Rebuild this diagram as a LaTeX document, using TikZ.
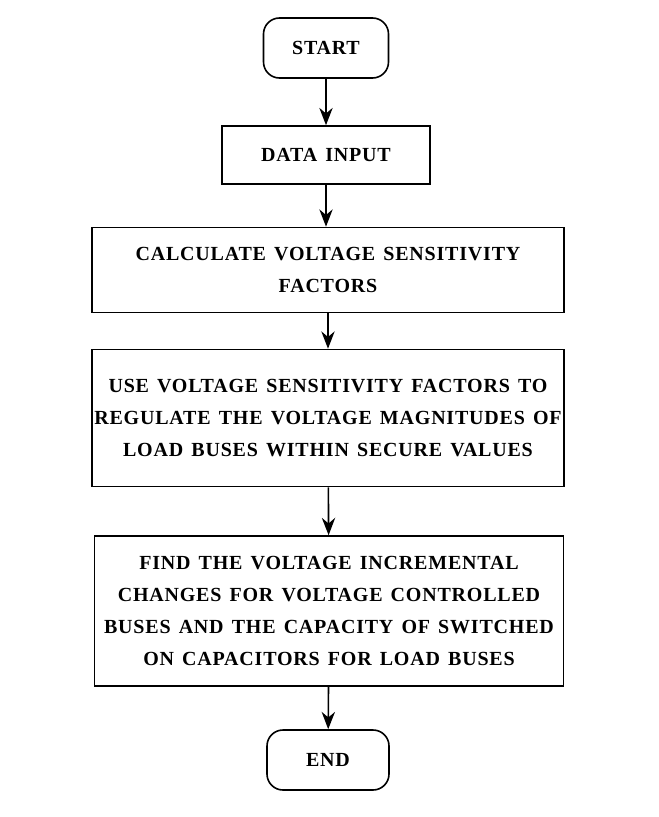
\documentclass[tikz,border=0pt]{standalone}
\usepackage{fontspec}
\setmainfont{Liberation Serif}[LetterSpace=4,WordSpace=1.4]
\usetikzlibrary{arrows.meta}
\begin{document}
\begin{tikzpicture}[x=0.75pt,y=-0.75pt,
  box/.style={draw,line width=1.2pt,align=center,font=\bfseries\fontsize{15}{24}\selectfont,inner sep=0pt},
  term/.style={box,rounded corners=12pt},
  arr/.style={line width=1.2pt,-{Stealth[length=13pt,width=10pt]}}]
\useasboundingbox (0,0) rectangle (659,817);
\node[term,minimum width=125*0.75pt,minimum height=60*0.75pt] (s) at (326,48) {START};
\node[box,minimum width=208*0.75pt,minimum height=58*0.75pt] (d) at (326,155) {DATA INPUT};
\node[box,minimum width=472*0.75pt,minimum height=85*0.75pt] (c) at (328,270) {CALCULATE VOLTAGE SENSITIVITY\\FACTORS};
\node[box,minimum width=472*0.75pt,minimum height=137*0.75pt] (u) at (328,418) {USE VOLTAGE SENSITIVITY FACTORS TO\\REGULATE THE VOLTAGE MAGNITUDES OF\\LOAD BUSES WITHIN SECURE VALUES};
\node[box,minimum width=469*0.75pt,minimum height=150*0.75pt] (f) at (329,611) {FIND THE VOLTAGE INCREMENTAL\\CHANGES FOR VOLTAGE CONTROLLED\\BUSES AND THE CAPACITY OF SWITCHED\\ON CAPACITORS FOR LOAD BUSES};
\node[term,minimum width=122*0.75pt,minimum height=60*0.75pt] (e) at (328,760) {END};
\draw[arr] (s) -- (d);
\draw[arr] (d) -- (d|-c.north);
\draw[arr] (c) -- (u);
\draw[arr] (u) -- (f);
\draw[arr] (f) -- (e);
\end{tikzpicture}
\end{document}
